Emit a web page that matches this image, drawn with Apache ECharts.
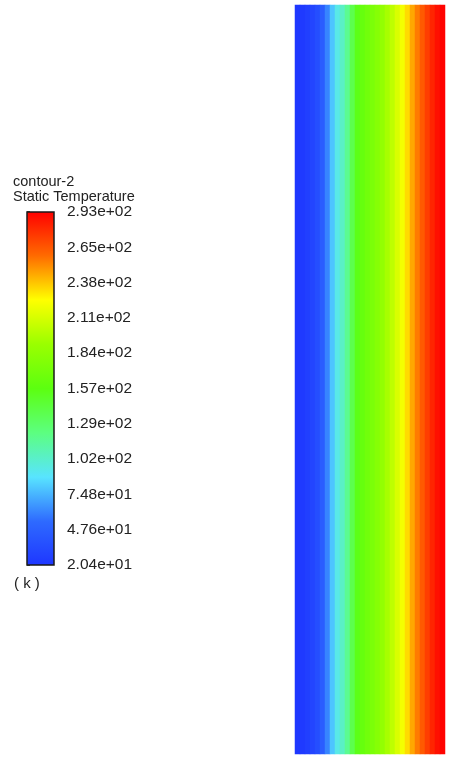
<!DOCTYPE html>
<html>
<head>
<meta charset="utf-8">
<script src="https://cdn.jsdelivr.net/npm/echarts@6/dist/echarts.min.js"></script>
<style>
html,body{margin:0;padding:0;background:#fff;}
#chart{width:474px;height:761px;}
</style>
</head>
<body>
<div id="chart"></div>
<script>
// ---- data ----
const legendTitle = 'contour-2';
const variableName = 'Static Temperature';
const unitLabel = '( k )';
const scaleMin = 20.4;
const scaleMax = 293;
const tickLabels = ['2.04e+01','4.76e+01','7.48e+01','1.02e+02','1.29e+02','1.57e+02','1.84e+02','2.11e+02','2.38e+02','2.65e+02','2.93e+02'];
// static temperature across the width of the domain (left -> right)
const temperatures = [21, 23, 26, 30, 36, 46, 62, 80, 95, 104, 118, 138, 155, 162, 168, 174, 180, 187, 195, 203, 212, 221, 233, 245, 255, 264, 273, 281, 288, 292];
const columns = temperatures.map((_, i) => String(i));

// ---- style ----
const rainbow = ['#1e36ff', '#2e6aff', '#58e4ff', '#5cff80', '#5cff10', '#9aff00', '#ffff00', '#ff6a00', '#ff0000'];
const font = 'Liberation Sans, Arial, sans-serif';

const chart = echarts.init(document.getElementById('chart'));
const stops = rainbow.map((c, i) => ({ offset: i / (rainbow.length - 1), color: c }));

chart.setOption({
  animation: false,
  backgroundColor: '#ffffff',
  title: [
    { text: legendTitle + '\n' + variableName, left: 13, top: 174, padding: 0,
      textStyle: { fontFamily: font, fontSize: 14.5, fontWeight: 'normal', color: '#222', lineHeight: 15 } },
    { text: unitLabel, left: 14, top: 576, padding: 0,
      textStyle: { fontFamily: font, fontSize: 15, fontWeight: 'normal', color: '#222' } }
  ],
  grid: [
    { left: 295, top: 5, width: 150, height: 749, show: false },
    { left: 27, top: 212, width: 27, height: 353, show: false }
  ],
  xAxis: [
    { type: 'category', gridIndex: 0, data: columns, show: false },
    { type: 'value', gridIndex: 1, min: 0, max: 1, show: false }
  ],
  yAxis: [
    { type: 'category', gridIndex: 0, data: ['0'], show: false },
    { type: 'value', gridIndex: 1, min: 0, max: tickLabels.length - 1, interval: 1, position: 'right',
      axisLine: { show: false },
      axisTick: { show: true, length: 3, lineStyle: { color: '#222', width: 1.5 } },
      splitLine: { show: false },
      axisLabel: { margin: 13, fontFamily: font, fontSize: 15.5, color: '#222',
        formatter: v => tickLabels[Math.round(v)] } }
  ],
  visualMap: {
    show: false, type: 'continuous', seriesIndex: 0,
    min: scaleMin, max: scaleMax,
    inRange: { color: rainbow }
  },
  series: [
    {
      type: 'heatmap', xAxisIndex: 0, yAxisIndex: 0,
      data: temperatures.map((t, i) => [i, 0, t]),
      itemStyle: { borderWidth: 0 },
      emphasis: { disabled: true }
    },
    {
      type: 'custom', xAxisIndex: 1, yAxisIndex: 1,
      data: [[0, 1, 0, tickLabels.length - 1]],
      renderItem: function (params, api) {
        const p0 = api.coord([api.value(0), api.value(2)]);
        const p1 = api.coord([api.value(1), api.value(3)]);
        return {
          type: 'rect',
          shape: { x: p0[0], y: p1[1], width: p1[0] - p0[0], height: p0[1] - p1[1] },
          style: {
            fill: new echarts.graphic.LinearGradient(0, 1, 0, 0, stops),
            stroke: '#1a1a1a', lineWidth: 1.5
          }
        };
      }
    }
  ]
});
</script>
</body>
</html>
